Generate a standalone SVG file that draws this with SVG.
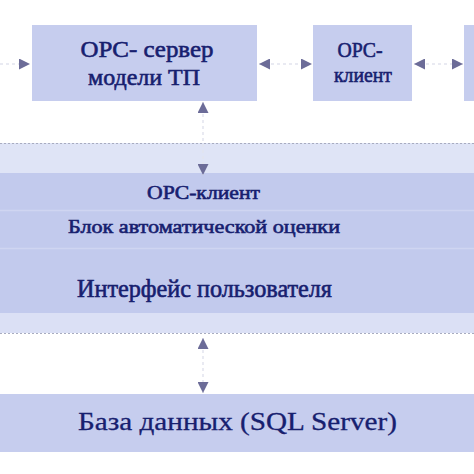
<svg xmlns="http://www.w3.org/2000/svg" width="474" height="474" viewBox="0 0 474 474">
<defs>
<marker id="ah" viewBox="0 0 10 10" refX="10" refY="5" markerWidth="17" markerHeight="11" markerUnits="userSpaceOnUse" orient="auto-start-reverse">
<path d="M0,0 L10,5 L0,10 z" fill="#6c6c98"/>
</marker>
<style>
.box{fill:#c6cdee;}
.t{font-family:"Liberation Serif","DejaVu Serif",serif;fill:#17206f;text-anchor:middle;}
.b{stroke:#17206f;stroke-width:0.6;}
.con{stroke:#e2e4ee;stroke-width:1.5;stroke-dasharray:3 3;fill:none;}
.dot{stroke:#a8acc0;stroke-width:1;stroke-dasharray:2 2;fill:none;}
</style>
</defs>
<rect width="474" height="474" fill="#ffffff"/>
<g id="node-opc-server">
<rect class="box" x="32" y="25" width="225" height="76"/>
<text class="t b" x="147" y="57" font-size="24" textLength="133" lengthAdjust="spacingAndGlyphs">OPC- сервер</text>
<text class="t b" x="144" y="85" font-size="24" textLength="112" lengthAdjust="spacingAndGlyphs">модели ТП</text>
</g>
<g id="node-opc-client-top">
<rect class="box" x="313" y="25" width="99" height="76"/>
<text class="t b" x="360" y="57" font-size="22" textLength="45" lengthAdjust="spacingAndGlyphs">OPC-</text>
<text class="t b" x="363" y="82" font-size="22" textLength="58" lengthAdjust="spacingAndGlyphs">клиент</text>
</g>
<g id="node-right">
<rect class="box" x="464" y="25" width="12" height="76"/>
</g>
<g id="node-client-system">
<rect x="0" y="143" width="474" height="30" fill="#dfe4f6"/>
<rect x="0" y="173" width="474" height="140" fill="#c2caed"/>
<rect x="0" y="313" width="474" height="20" fill="#dbe0f5"/>
<line x1="0" y1="210.5" x2="474" y2="210.5" stroke="#cfd5f1" stroke-width="1.5"/>
<line x1="0" y1="248.5" x2="474" y2="248.5" stroke="#cfd5f1" stroke-width="1.5"/>
<line class="dot" x1="0" y1="143.5" x2="474" y2="143.5"/>
<line class="dot" x1="0" y1="333.5" x2="474" y2="333.5"/>
<text class="t b" x="203.5" y="199" font-size="19" textLength="113" lengthAdjust="spacingAndGlyphs">OPC-клиент</text>
<text class="t b" x="204" y="233" font-size="19" textLength="272" lengthAdjust="spacingAndGlyphs">Блок автоматической оценки</text>
<text class="t b" x="204.5" y="297" font-size="25" textLength="255" lengthAdjust="spacingAndGlyphs">Интерфейс пользователя</text>
</g>
<g id="node-database">
<rect class="box" x="0" y="394" width="474" height="58"/>
<text class="t" x="237.5" y="430" font-size="26" textLength="319" lengthAdjust="spacingAndGlyphs" stroke="#17206f" stroke-width="0.3">База данных (SQL Server)</text>
</g>
<g id="connectors">
<line class="con" x1="0" y1="64" x2="30" y2="64" marker-end="url(#ah)"/>
<line class="con" x1="259" y1="64" x2="312" y2="64" marker-start="url(#ah)" marker-end="url(#ah)"/>
<line class="con" x1="414" y1="64" x2="463" y2="64" marker-start="url(#ah)" marker-end="url(#ah)"/>
<line class="con" x1="203" y1="102" x2="203" y2="175" marker-start="url(#ah)" marker-end="url(#ah)"/>
<line class="con" x1="203" y1="338" x2="203" y2="393" marker-start="url(#ah)" marker-end="url(#ah)"/>
</g>
</svg>
